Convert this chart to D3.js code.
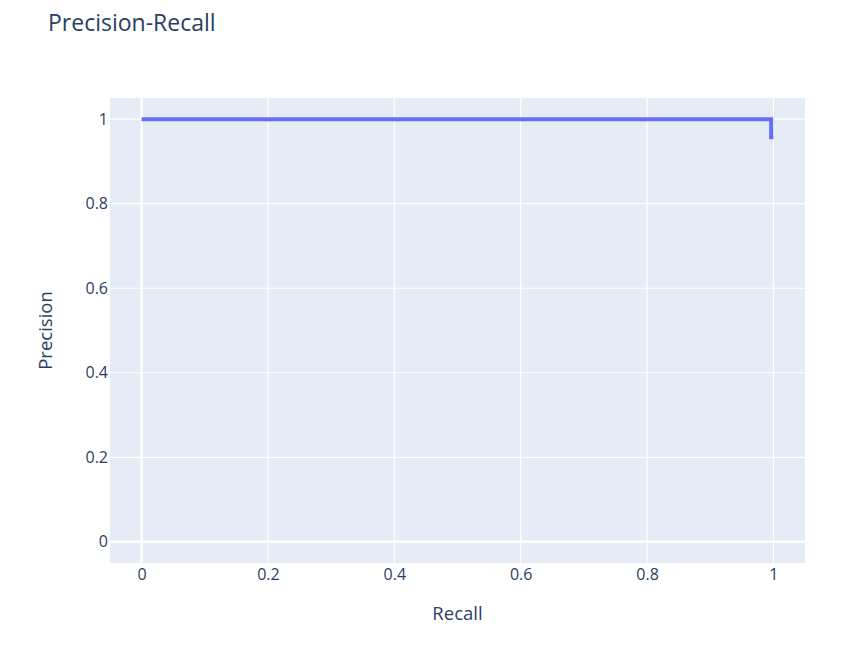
<!DOCTYPE html>
<meta charset="utf-8">
<script src="https://d3js.org/d3.v7.min.js"></script>
<style>
  body { margin: 0; background: #fff; }
  text { font-family: "Open Sans", "Noto Sans", sans-serif; fill: #2a3f5f; }
</style>
<div id="chart"></div>
<script>
  // curve points
  const recall = [0, 0.9965, 0.9965, 1.0];
  const precision = [1, 1, 0.957, 0.957];
  const tickValues = [0, 0.2, 0.4, 0.6, 0.8, 1];
  const tickLabels = ["0", "0.2", "0.4", "0.6", "0.8", "1"];

  var W = 861, H = 649;
  var margin = {top: 98, right: 56, bottom: 86, left: 110},
      width = W - margin.left - margin.right,
      height = H - margin.top - margin.bottom;

  var svg = d3.select("#chart").append("svg")
      .attr("width", W)
      .attr("height", H);

  svg.append("text")
    .attr("x", 48).attr("y", 31)
    .style("font-size", "23px")
    .text("Precision-Recall");

  var g = svg.append("g")
    .attr("transform", "translate(" + margin.left + "," + margin.top + ")");

  var x = d3.scaleLinear().domain([-0.05, 1.05]).range([0, width]);
  var y = d3.scaleLinear().domain([-0.05, 1.05]).range([height, 0]);

  g.append("rect")
    .attr("width", width).attr("height", height)
    .attr("fill", "#e5ecf6");

  // grid
  g.selectAll(".gx").data(tickValues).enter().append("line")
    .attr("x1", d => x(d)).attr("x2", d => x(d))
    .attr("y1", 0).attr("y2", height)
    .attr("stroke", "#fff")
    .attr("stroke-width", d => d === 0 ? 2.5 : 1.2);
  g.selectAll(".gy").data(tickValues).enter().append("line")
    .attr("y1", d => y(d)).attr("y2", d => y(d))
    .attr("x1", 0).attr("x2", width)
    .attr("stroke", "#fff")
    .attr("stroke-width", d => d === 0 ? 2.5 : 1.2);

  // axes (labels only)
  var xAxis = g.append("g")
    .attr("transform", "translate(0," + height + ")")
    .call(d3.axisBottom(x).tickValues(tickValues)
      .tickFormat((d, i) => tickLabels[i]).tickSize(0).tickPadding(6));
  var yAxis = g.append("g")
    .call(d3.axisLeft(y).tickValues(tickValues)
      .tickFormat((d, i) => tickLabels[i]).tickSize(0).tickPadding(2));
  [xAxis, yAxis].forEach(function(a) {
    a.select(".domain").remove();
    a.selectAll("text").style("font-size", "16px").attr("fill", "#506784");
  });

  // line
  var line = d3.line()
    .x((d, i) => x(recall[i]))
    .y((d, i) => y(precision[i]));
  g.append("path")
    .datum(recall)
    .attr("d", line)
    .attr("fill", "none")
    .attr("stroke", "#636efa")
    .attr("stroke-width", 4);

  svg.append("text")
    .attr("x", margin.left + width / 2).attr("y", 620)
    .attr("text-anchor", "middle")
    .style("font-size", "18.5px")
    .text("Recall");

  svg.append("text")
    .attr("transform", "translate(52," + (margin.top + height / 2) + ") rotate(-90)")
    .attr("text-anchor", "middle")
    .style("font-size", "18.5px")
    .text("Precision");
</script>
